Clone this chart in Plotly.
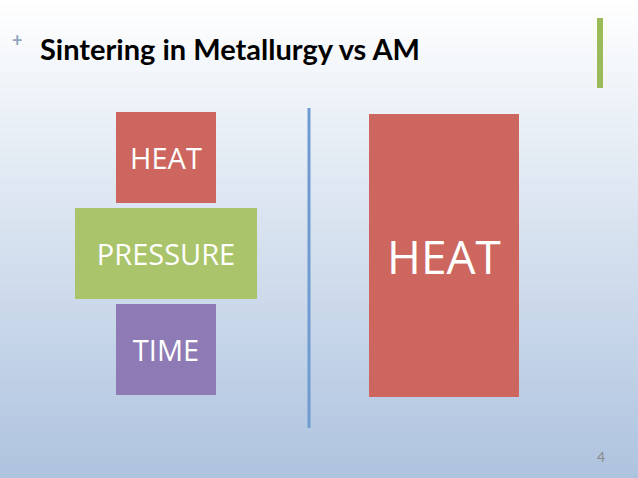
import plotly.graph_objects as go
import numpy as np

labels = ["HEAT", "PRESSURE", "TIME", "HEAT"]
x_left = [116, 75, 116, 369]
x_right = [216, 257, 216, 519]
y_top = [112, 208, 304, 114]
y_bottom = [203, 299, 395, 397]
colors = ["#cc665e", "#a9c46b", "#8e7bb5", "#cc665e"]
font_sizes = [29, 29, 29, 46]

W, H = 638, 478
fig = go.Figure()

gy = np.linspace(0, H, 60)
z = [[v] * 2 for v in gy]
fig.add_trace(go.Heatmap(x=[0, W], y=gy, z=z, showscale=False, hoverinfo="skip",
                         colorscale=[[0, "#ffffff"], [0.3, "#e6edf5"], [1, "#aec3df"]],
                         zsmooth="best"))

for i in range(len(labels)):
    cx = (x_left[i] + x_right[i]) / 2
    w = x_right[i] - x_left[i]
    fig.add_trace(go.Bar(x=[cx], y=[y_bottom[i] - y_top[i]], base=[y_top[i]], width=[w],
                         marker=dict(color=colors[i], line=dict(width=0)),
                         text=[labels[i]], textposition="inside", insidetextanchor="middle",
                         textangle=0,
                         textfont=dict(color="white", size=font_sizes[i], family="Open Sans"),
                         hoverinfo="skip", showlegend=False))

fig.add_shape(type="line", x0=309, x1=309, y0=108, y1=428, line=dict(color="#6f9bd0", width=3))
fig.add_shape(type="rect", x0=597, x1=603, y0=18, y1=88, fillcolor="#9bbb59", line=dict(width=0))

fig.add_annotation(x=38, y=48, text="<b>Sintering in Metallurgy vs AM</b>", showarrow=False,
                   xanchor="left", yanchor="middle",
                   font=dict(size=29, color="black", family="Lato"))
fig.add_annotation(x=10, y=40, text="<b>+</b>", showarrow=False, xanchor="left",
                   font=dict(size=18, color="#8fa4c0", family="Lato"))
fig.add_annotation(x=601, y=456, text="4", showarrow=False,
                   font=dict(size=14, color="#8a8a8a", family="Lato"))

fig.update_layout(width=W, height=H, margin=dict(l=0, r=0, t=0, b=0),
                  paper_bgcolor="white", plot_bgcolor="white", barmode="overlay",
                  xaxis=dict(range=[0, W], visible=False, fixedrange=True),
                  yaxis=dict(range=[H, 0], visible=False, fixedrange=True))
fig.write_html("out.html", config={"displayModeBar": False},
               post_script="document.body.style.margin='0';document.body.style.overflow='hidden';")
